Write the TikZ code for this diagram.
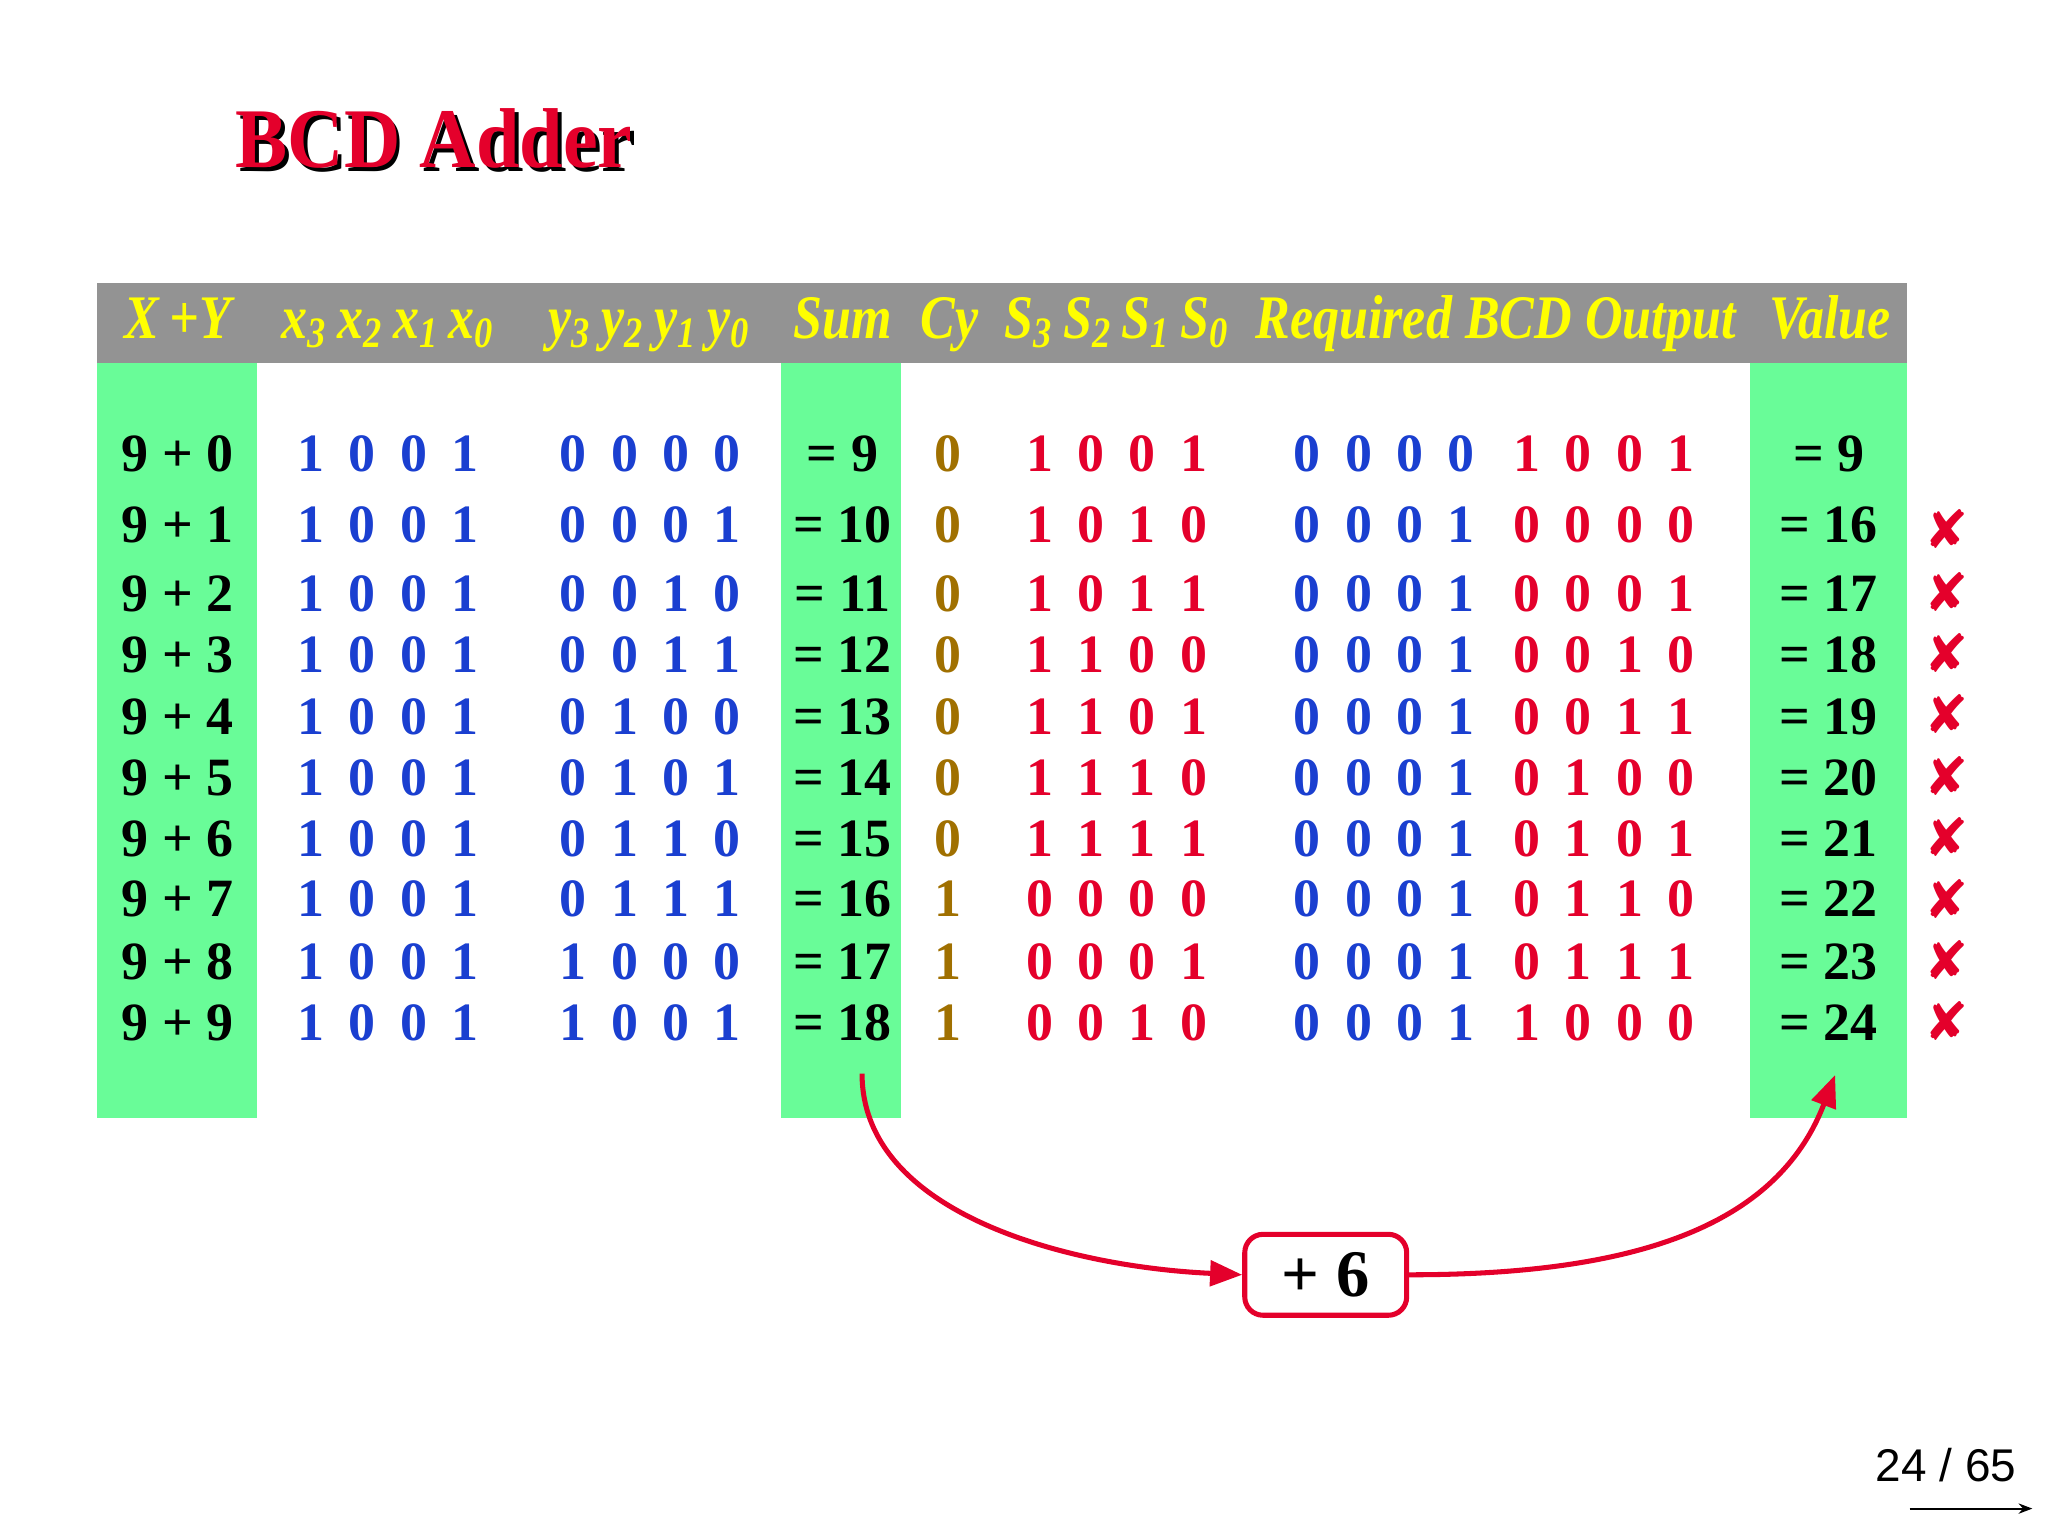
\documentclass[tikz,border=0pt]{standalone}
\usepackage{fontspec}
\setmainfont{Liberation Serif}
\newfontfamily\hdfont[FakeStretch=0.84]{Liberation Serif}
\newfontfamily\ttlfont[FakeStretch=0.92]{Liberation Serif}
\newfontfamily\dejavu{DejaVu Sans}
\newfontfamily\lsans{Liberation Sans}
\usetikzlibrary{arrows.meta}
\definecolor{bblue}{HTML}{1A3FD0}
\definecolor{rred}{HTML}{E4002B}
\definecolor{brn}{HTML}{A07000}
\definecolor{grn}{HTML}{69FC98}
\definecolor{gry}{HTML}{939393}
\definecolor{yel}{HTML}{FFFF00}
\tikzset{cell/.style={font=\fontsize{23.5}{24}\selectfont\bfseries,inner sep=0pt,anchor=base},
hd/.style={font=\hdfont\fontsize{27}{27}\selectfont\bfseries\itshape,text=yel,inner sep=0pt,anchor=base},
xm/.style={font=\dejavu\fontsize{23}{23}\selectfont\bfseries,text=rred,inner sep=0pt},
conn/.style={rred,line width=2.2pt,-{Triangle[length=14pt,width=11pt]}}}
\def\splitfour#1#2#3#4{%
 \node[cell,text=\bcol] (\bn a) at (\bx,\by) {#1};
 \node[cell,text=\bcol] (\bn b) at (\bx+39.3,\by) {#2};
 \node[cell,text=\bcol] (\bn c) at (\bx+78.6,\by) {#3};
 \node[cell,text=\bcol] (\bn d) at (\bx+117.9,\by) {#4};}
\newcommand\bitrow[5]{\def\bn{#1}\def\bx{#2}\def\by{#3}\def\bcol{#4}\expandafter\splitfour#5}
\newcommand\sbs[1]{\textsubscript{#1}}
\begin{document}
\begin{tikzpicture}[x=0.02cm,y=-0.02cm]
\useasboundingbox (0,0) rectangle (1568,1176);
\fill[white] (0,0) rectangle (1568,1176);
\fill[gry] (74,217) rectangle (1460,278);
\foreach \a/\b in {74/197,598/690,1340/1460} \fill[grn] (\a,278) rectangle (\b,856);
\node[anchor=base west,inner sep=0pt,font=\ttlfont\fontsize{37}{37}\selectfont\bfseries,text=black] at (183,131) {BCD Adder};
\node[anchor=base west,inner sep=0pt,font=\ttlfont\fontsize{37}{37}\selectfont\bfseries,text=rred] (title) at (180,128) {BCD Adder};
% headers
\node[hd] (h1) at (136,259) {X\,+Y};
\node[hd] (h2) at (297,259) {x\sbs{3}\,x\sbs{2}\,x\sbs{1}\,x\sbs{0}};
\node[hd] (h3) at (497,259) {y\sbs{3}\,y\sbs{2}\,y\sbs{1}\,y\sbs{0}};
\node[hd] (h4) at (645,259) {Sum};
\node[hd] (h5) at (727,259) {Cy};
\node[hd] (h6) at (855,259) {S\sbs{3}\,S\sbs{2}\,S\sbs{1}\,S\sbs{0}};
\node[hd] (h7) at (1145,259) {Required BCD Output};
\node[hd] (h8) at (1401,259) {Value};
% rows
\foreach \r/\yy/\xs/\ys/\sm/\cy/\sss/\bb/\bcc/\vl in {
1/361/1001/0000/9/0/1001/0000/1001/9,
2/415/1001/0001/10/0/1010/0001/0000/16,
3/468/1001/0010/11/0/1011/0001/0001/17,
4/515/1001/0011/12/0/1100/0001/0010/18,
5/562/1001/0100/13/0/1101/0001/0011/19,
6/609/1001/0101/14/0/1110/0001/0100/20,
7/656/1001/0110/15/0/1111/0001/0101/21,
8/702/1001/0111/16/1/0000/0001/0110/22,
9/750/1001/1000/17/1/0001/0001/0111/23,
10/797/1001/1001/18/1/0010/0001/1000/24}{
 \pgfmathtruncatemacro{\yv}{\r-1}
 \node[cell] (xy\r) at (136,\yy) {9 + \yv};
 \bitrow{x\r}{238}{\yy}{bblue}{\xs}
 \bitrow{y\r}{439}{\yy}{bblue}{\ys}
 \node[cell] (s\r) at (645,\yy) {= \sm};
 \node[cell,text=brn] (c\r) at (726,\yy) {\cy};
 \bitrow{ss\r}{796}{\yy}{rred}{\sss}
 \bitrow{b\r}{1001}{\yy}{bblue}{\bb}
 \bitrow{bc\r}{1169}{\yy}{rred}{\bcc}
 \node[cell] (v\r) at (1400,\yy) {= \vl};
}
\foreach \r/\yy in {2/405,3/453,4/500,5/547,6/594,7/641,8/688,9/735,10/782} \node[xm] (m\r) at (1490,\yy) {✘};
\node[draw=rred,line width=2.2pt,rounded corners=8pt,font=\fontsize{29}{29}\selectfont\bfseries,inner sep=0pt,minimum width=2.48cm,minimum height=1.24cm] (p6) at (1015,976) {+ 6};
\coordinate (st) at (660,822);
\coordinate (en) at (1405,823);
\draw[conn] (st) .. controls (660,930) and (820,970) .. (p6.west);
\draw[conn] (p6.east) .. controls (1250,976) and (1360,940) .. (en);
\node[anchor=base,inner sep=0pt,font=\lsans\fontsize{20}{20}\selectfont] (pg) at (1490,1134) {24 / 65};
\coordinate (a1) at (1462,1155); \coordinate (a2) at (1556,1155);
\draw[-{Stealth[length=6pt]},line width=0.8pt] (a1) -- (a2);
\end{tikzpicture}
\end{document}
